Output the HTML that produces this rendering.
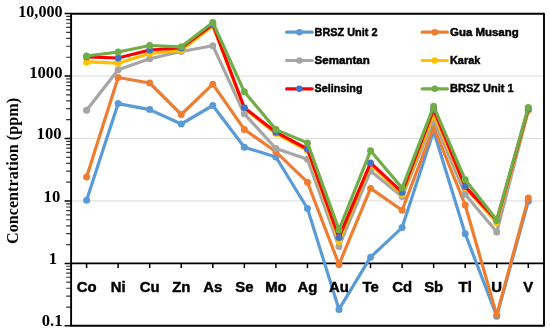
<!DOCTYPE html><html><head><meta charset="utf-8"><style>html,body{margin:0;padding:0;background:#fff;width:550px;height:332px;overflow:hidden}svg{display:block}.sf{font-family:"Liberation Serif",serif;font-weight:bold;fill:#000}.ss{font-family:"Liberation Sans",sans-serif;font-weight:bold;fill:#000;stroke:#000;stroke-width:0.45px}</style></head><body>
<svg width="550" height="332" viewBox="0 0 550 332">
<rect width="550" height="332" fill="#fff"/>
<line x1="71.10" y1="76.05" x2="544.00" y2="76.05" stroke="#D9D9D9" stroke-width="1"/>
<line x1="71.10" y1="138.50" x2="544.00" y2="138.50" stroke="#D9D9D9" stroke-width="1"/>
<line x1="71.10" y1="200.95" x2="544.00" y2="200.95" stroke="#D9D9D9" stroke-width="1"/>
<path d="M66.2 307.05H71.10M66.2 296.05H71.10M66.2 288.25H71.10M66.2 282.20H71.10M66.2 277.25H71.10M66.2 273.07H71.10M66.2 269.45H71.10M66.2 266.26H71.10M66.2 244.60H71.10M66.2 233.60H71.10M66.2 225.80H71.10M66.2 219.75H71.10M66.2 214.80H71.10M66.2 210.62H71.10M66.2 207.00H71.10M66.2 203.81H71.10M66.2 182.15H71.10M66.2 171.15H71.10M66.2 163.35H71.10M66.2 157.30H71.10M66.2 152.35H71.10M66.2 148.17H71.10M66.2 144.55H71.10M66.2 141.36H71.10M66.2 119.70H71.10M66.2 108.70H71.10M66.2 100.90H71.10M66.2 94.85H71.10M66.2 89.90H71.10M66.2 85.72H71.10M66.2 82.10H71.10M66.2 78.91H71.10M66.2 57.25H71.10M66.2 46.25H71.10M66.2 38.45H71.10M66.2 32.40H71.10M66.2 27.45H71.10M66.2 23.27H71.10M66.2 19.65H71.10M66.2 16.46H71.10" stroke="#333" stroke-width="1.2" fill="none"/>
<path d="M64.6 325.85H71.10M64.6 263.40H71.10M64.6 200.95H71.10M64.6 138.50H71.10M64.6 76.05H71.10M64.6 13.60H71.10" stroke="#000" stroke-width="1.5" fill="none"/>
<path d="M86.60 263.40V268M118.15 263.40V268M149.70 263.40V268M181.25 263.40V268M212.80 263.40V268M244.35 263.40V268M275.90 263.40V268M307.45 263.40V268M339.00 263.40V268M370.55 263.40V268M402.10 263.40V268M433.65 263.40V268M465.20 263.40V268M496.75 263.40V268M528.30 263.40V268" stroke="#000" stroke-width="1.5" fill="none"/>
<path d="M71.10 13.70H544.00V325.70H71.10Z" stroke="#000" stroke-width="1.9" fill="none" stroke-linejoin="round"/>
<line x1="71.10" y1="263.40" x2="544.00" y2="263.40" stroke="#000" stroke-width="1.9"/>
<polyline points="86.60,200.20 118.15,103.60 149.70,109.60 181.25,124.00 212.80,105.50 244.35,147.20 275.90,157.00 307.45,208.50 339.00,309.40 370.55,257.20 402.10,227.60 433.65,131.00 465.20,233.70 496.75,316.20 528.30,201.30" fill="none" stroke="#5B9BD5" stroke-width="3.2" stroke-linejoin="round" stroke-linecap="round"/>
<circle cx="86.60" cy="200.20" r="3.5" fill="#5B9BD5"/>
<circle cx="118.15" cy="103.60" r="3.5" fill="#5B9BD5"/>
<circle cx="149.70" cy="109.60" r="3.5" fill="#5B9BD5"/>
<circle cx="181.25" cy="124.00" r="3.5" fill="#5B9BD5"/>
<circle cx="212.80" cy="105.50" r="3.5" fill="#5B9BD5"/>
<circle cx="244.35" cy="147.20" r="3.5" fill="#5B9BD5"/>
<circle cx="275.90" cy="157.00" r="3.5" fill="#5B9BD5"/>
<circle cx="307.45" cy="208.50" r="3.5" fill="#5B9BD5"/>
<circle cx="339.00" cy="309.40" r="3.5" fill="#5B9BD5"/>
<circle cx="370.55" cy="257.20" r="3.5" fill="#5B9BD5"/>
<circle cx="402.10" cy="227.60" r="3.5" fill="#5B9BD5"/>
<circle cx="433.65" cy="131.00" r="3.5" fill="#5B9BD5"/>
<circle cx="465.20" cy="233.70" r="3.5" fill="#5B9BD5"/>
<circle cx="496.75" cy="316.20" r="3.5" fill="#5B9BD5"/>
<circle cx="528.30" cy="201.30" r="3.5" fill="#5B9BD5"/>
<polyline points="86.60,177.00 118.15,77.50 149.70,83.00 181.25,114.50 212.80,84.20 244.35,129.40 275.90,151.80 307.45,182.20 339.00,264.50 370.55,188.40 402.10,210.30 433.65,127.00 465.20,205.00 496.75,315.10 528.30,198.10" fill="none" stroke="#ED7D31" stroke-width="3.2" stroke-linejoin="round" stroke-linecap="round"/>
<circle cx="86.60" cy="177.00" r="3.5" fill="#ED7D31"/>
<circle cx="118.15" cy="77.50" r="3.5" fill="#ED7D31"/>
<circle cx="149.70" cy="83.00" r="3.5" fill="#ED7D31"/>
<circle cx="181.25" cy="114.50" r="3.5" fill="#ED7D31"/>
<circle cx="212.80" cy="84.20" r="3.5" fill="#ED7D31"/>
<circle cx="244.35" cy="129.40" r="3.5" fill="#ED7D31"/>
<circle cx="275.90" cy="151.80" r="3.5" fill="#ED7D31"/>
<circle cx="307.45" cy="182.20" r="3.5" fill="#ED7D31"/>
<circle cx="339.00" cy="264.50" r="3.5" fill="#ED7D31"/>
<circle cx="370.55" cy="188.40" r="3.5" fill="#ED7D31"/>
<circle cx="402.10" cy="210.30" r="3.5" fill="#ED7D31"/>
<circle cx="433.65" cy="127.00" r="3.5" fill="#ED7D31"/>
<circle cx="465.20" cy="205.00" r="3.5" fill="#ED7D31"/>
<circle cx="496.75" cy="315.10" r="3.5" fill="#ED7D31"/>
<circle cx="528.30" cy="198.10" r="3.5" fill="#ED7D31"/>
<polyline points="86.60,110.20 118.15,69.80 149.70,58.70 181.25,51.50 212.80,45.70 244.35,113.80 275.90,148.50 307.45,159.30 339.00,246.50 370.55,171.00 402.10,196.60 433.65,119.50 465.20,194.20 496.75,232.00 528.30,110.50" fill="none" stroke="#A5A5A5" stroke-width="3.2" stroke-linejoin="round" stroke-linecap="round"/>
<circle cx="86.60" cy="110.20" r="3.5" fill="#A5A5A5"/>
<circle cx="118.15" cy="69.80" r="3.5" fill="#A5A5A5"/>
<circle cx="149.70" cy="58.70" r="3.5" fill="#A5A5A5"/>
<circle cx="181.25" cy="51.50" r="3.5" fill="#A5A5A5"/>
<circle cx="212.80" cy="45.70" r="3.5" fill="#A5A5A5"/>
<circle cx="244.35" cy="113.80" r="3.5" fill="#A5A5A5"/>
<circle cx="275.90" cy="148.50" r="3.5" fill="#A5A5A5"/>
<circle cx="307.45" cy="159.30" r="3.5" fill="#A5A5A5"/>
<circle cx="339.00" cy="246.50" r="3.5" fill="#A5A5A5"/>
<circle cx="370.55" cy="171.00" r="3.5" fill="#A5A5A5"/>
<circle cx="402.10" cy="196.60" r="3.5" fill="#A5A5A5"/>
<circle cx="433.65" cy="119.50" r="3.5" fill="#A5A5A5"/>
<circle cx="465.20" cy="194.20" r="3.5" fill="#A5A5A5"/>
<circle cx="496.75" cy="232.00" r="3.5" fill="#A5A5A5"/>
<circle cx="528.30" cy="110.50" r="3.5" fill="#A5A5A5"/>
<polyline points="86.60,61.90 118.15,63.20 149.70,53.50 181.25,50.50 212.80,25.80 244.35,108.60 275.90,133.40 307.45,150.50 339.00,241.50 370.55,164.50 402.10,194.50 433.65,114.00 465.20,187.80 496.75,222.80 528.30,109.50" fill="none" stroke="#FFC000" stroke-width="3.2" stroke-linejoin="round" stroke-linecap="round"/>
<circle cx="86.60" cy="61.90" r="3.5" fill="#FFC000"/>
<circle cx="118.15" cy="63.20" r="3.5" fill="#FFC000"/>
<circle cx="149.70" cy="53.50" r="3.5" fill="#FFC000"/>
<circle cx="181.25" cy="50.50" r="3.5" fill="#FFC000"/>
<circle cx="212.80" cy="25.80" r="3.5" fill="#FFC000"/>
<circle cx="244.35" cy="108.60" r="3.5" fill="#FFC000"/>
<circle cx="275.90" cy="133.40" r="3.5" fill="#FFC000"/>
<circle cx="307.45" cy="150.50" r="3.5" fill="#FFC000"/>
<circle cx="339.00" cy="241.50" r="3.5" fill="#FFC000"/>
<circle cx="370.55" cy="164.50" r="3.5" fill="#FFC000"/>
<circle cx="402.10" cy="194.50" r="3.5" fill="#FFC000"/>
<circle cx="433.65" cy="114.00" r="3.5" fill="#FFC000"/>
<circle cx="465.20" cy="187.80" r="3.5" fill="#FFC000"/>
<circle cx="496.75" cy="222.80" r="3.5" fill="#FFC000"/>
<circle cx="528.30" cy="109.50" r="3.5" fill="#FFC000"/>
<polyline points="86.60,56.80 118.15,58.00 149.70,50.00 181.25,48.00 212.80,24.50 244.35,107.80 275.90,132.20 307.45,149.00 339.00,237.40 370.55,162.90 402.10,192.20 433.65,109.50 465.20,186.60 496.75,220.30 528.30,109.00" fill="none" stroke="#FF0000" stroke-width="3.2" stroke-linejoin="round" stroke-linecap="round"/>
<circle cx="86.60" cy="56.80" r="3.5" fill="#4472C4"/>
<circle cx="118.15" cy="58.00" r="3.5" fill="#4472C4"/>
<circle cx="149.70" cy="50.00" r="3.5" fill="#4472C4"/>
<circle cx="181.25" cy="48.00" r="3.5" fill="#4472C4"/>
<circle cx="212.80" cy="24.50" r="3.5" fill="#4472C4"/>
<circle cx="244.35" cy="107.80" r="3.5" fill="#4472C4"/>
<circle cx="275.90" cy="132.20" r="3.5" fill="#4472C4"/>
<circle cx="307.45" cy="149.00" r="3.5" fill="#4472C4"/>
<circle cx="339.00" cy="237.40" r="3.5" fill="#4472C4"/>
<circle cx="370.55" cy="162.90" r="3.5" fill="#4472C4"/>
<circle cx="402.10" cy="192.20" r="3.5" fill="#4472C4"/>
<circle cx="433.65" cy="109.50" r="3.5" fill="#4472C4"/>
<circle cx="465.20" cy="186.60" r="3.5" fill="#4472C4"/>
<circle cx="496.75" cy="220.30" r="3.5" fill="#4472C4"/>
<circle cx="528.30" cy="109.00" r="3.5" fill="#4472C4"/>
<polyline points="86.60,56.00 118.15,52.00 149.70,45.50 181.25,46.80 212.80,22.50 244.35,91.80 275.90,129.60 307.45,142.90 339.00,229.90 370.55,150.80 402.10,188.00 433.65,106.30 465.20,179.80 496.75,219.90 528.30,107.50" fill="none" stroke="#70AD47" stroke-width="3.2" stroke-linejoin="round" stroke-linecap="round"/>
<circle cx="86.60" cy="56.00" r="3.5" fill="#70AD47"/>
<circle cx="118.15" cy="52.00" r="3.5" fill="#70AD47"/>
<circle cx="149.70" cy="45.50" r="3.5" fill="#70AD47"/>
<circle cx="181.25" cy="46.80" r="3.5" fill="#70AD47"/>
<circle cx="212.80" cy="22.50" r="3.5" fill="#70AD47"/>
<circle cx="244.35" cy="91.80" r="3.5" fill="#70AD47"/>
<circle cx="275.90" cy="129.60" r="3.5" fill="#70AD47"/>
<circle cx="307.45" cy="142.90" r="3.5" fill="#70AD47"/>
<circle cx="339.00" cy="229.90" r="3.5" fill="#70AD47"/>
<circle cx="370.55" cy="150.80" r="3.5" fill="#70AD47"/>
<circle cx="402.10" cy="188.00" r="3.5" fill="#70AD47"/>
<circle cx="433.65" cy="106.30" r="3.5" fill="#70AD47"/>
<circle cx="465.20" cy="179.80" r="3.5" fill="#70AD47"/>
<circle cx="496.75" cy="219.90" r="3.5" fill="#70AD47"/>
<circle cx="528.30" cy="107.50" r="3.5" fill="#70AD47"/>
<text class="ss" x="86.60" y="291.6" font-size="14.9" text-anchor="middle">Co</text>
<text class="ss" x="118.15" y="291.6" font-size="14.9" text-anchor="middle">Ni</text>
<text class="ss" x="149.70" y="291.6" font-size="14.9" text-anchor="middle">Cu</text>
<text class="ss" x="181.25" y="291.6" font-size="14.9" text-anchor="middle">Zn</text>
<text class="ss" x="212.80" y="291.6" font-size="14.9" text-anchor="middle">As</text>
<text class="ss" x="244.35" y="291.6" font-size="14.9" text-anchor="middle">Se</text>
<text class="ss" x="275.90" y="291.6" font-size="14.9" text-anchor="middle">Mo</text>
<text class="ss" x="307.45" y="291.6" font-size="14.9" text-anchor="middle">Ag</text>
<text class="ss" x="339.00" y="291.6" font-size="14.9" text-anchor="middle">Au</text>
<text class="ss" x="370.55" y="291.6" font-size="14.9" text-anchor="middle">Te</text>
<text class="ss" x="402.10" y="291.6" font-size="14.9" text-anchor="middle">Cd</text>
<text class="ss" x="433.65" y="291.6" font-size="14.9" text-anchor="middle">Sb</text>
<text class="ss" x="465.20" y="291.6" font-size="14.9" text-anchor="middle">Tl</text>
<text class="ss" x="496.75" y="291.6" font-size="14.9" text-anchor="middle">U</text>
<text class="ss" x="528.30" y="291.6" font-size="14.9" text-anchor="middle">V</text>
<text class="sf" x="62.5" y="16.8" font-size="16.7" text-anchor="end" textLength="44.2" lengthAdjust="spacingAndGlyphs">10,000</text>
<text class="sf" x="62.5" y="78.0" font-size="16.7" text-anchor="end">1000</text>
<text class="sf" x="61.6" y="139.4" font-size="16.7" text-anchor="end">100</text>
<text class="sf" x="60.3" y="201.7" font-size="16.7" text-anchor="end">10</text>
<text class="sf" x="57.2" y="263.5" font-size="16.7" text-anchor="end">1</text>
<text class="sf" x="62.6" y="325.7" font-size="16.7" text-anchor="end">0.1</text>
<text class="sf" transform="translate(17.7,171) rotate(-90)" font-size="16.2" text-anchor="middle">Concentration (ppm)</text>
<line x1="286.60" y1="32.2" x2="312.20" y2="32.2" stroke="#5B9BD5" stroke-width="3.2" stroke-linecap="round"/>
<circle cx="299.40" cy="32.2" r="3.3" fill="#5B9BD5"/>
<text class="ss" x="314.6" y="35.70" font-size="11.2" textLength="62.9" lengthAdjust="spacingAndGlyphs">BRSZ Unit 2</text>
<line x1="422.20" y1="32.2" x2="447.40" y2="32.2" stroke="#ED7D31" stroke-width="3.2" stroke-linecap="round"/>
<circle cx="434.80" cy="32.2" r="3.3" fill="#ED7D31"/>
<text class="ss" x="450.0" y="35.70" font-size="11.2" textLength="68.7" lengthAdjust="spacingAndGlyphs">Gua Musang</text>
<line x1="286.60" y1="60.5" x2="312.20" y2="60.5" stroke="#A5A5A5" stroke-width="3.2" stroke-linecap="round"/>
<circle cx="299.40" cy="60.5" r="3.3" fill="#A5A5A5"/>
<text class="ss" x="314.6" y="64.00" font-size="11.2" textLength="55.2" lengthAdjust="spacingAndGlyphs">Semantan</text>
<line x1="422.20" y1="60.5" x2="447.40" y2="60.5" stroke="#FFC000" stroke-width="3.2" stroke-linecap="round"/>
<circle cx="434.80" cy="60.5" r="3.3" fill="#FFC000"/>
<text class="ss" x="450.0" y="64.00" font-size="11.2" textLength="30.3" lengthAdjust="spacingAndGlyphs">Karak</text>
<line x1="286.60" y1="88.8" x2="312.20" y2="88.8" stroke="#FF0000" stroke-width="3.2" stroke-linecap="round"/>
<circle cx="299.40" cy="88.8" r="3.3" fill="#4472C4"/>
<text class="ss" x="314.6" y="92.30" font-size="11.2" textLength="47.9" lengthAdjust="spacingAndGlyphs">Selinsing</text>
<line x1="422.20" y1="88.8" x2="447.40" y2="88.8" stroke="#70AD47" stroke-width="3.2" stroke-linecap="round"/>
<circle cx="434.80" cy="88.8" r="3.3" fill="#70AD47"/>
<text class="ss" x="450.0" y="92.30" font-size="11.2" textLength="63.6" lengthAdjust="spacingAndGlyphs">BRSZ Unit 1</text>
</svg></body></html>
